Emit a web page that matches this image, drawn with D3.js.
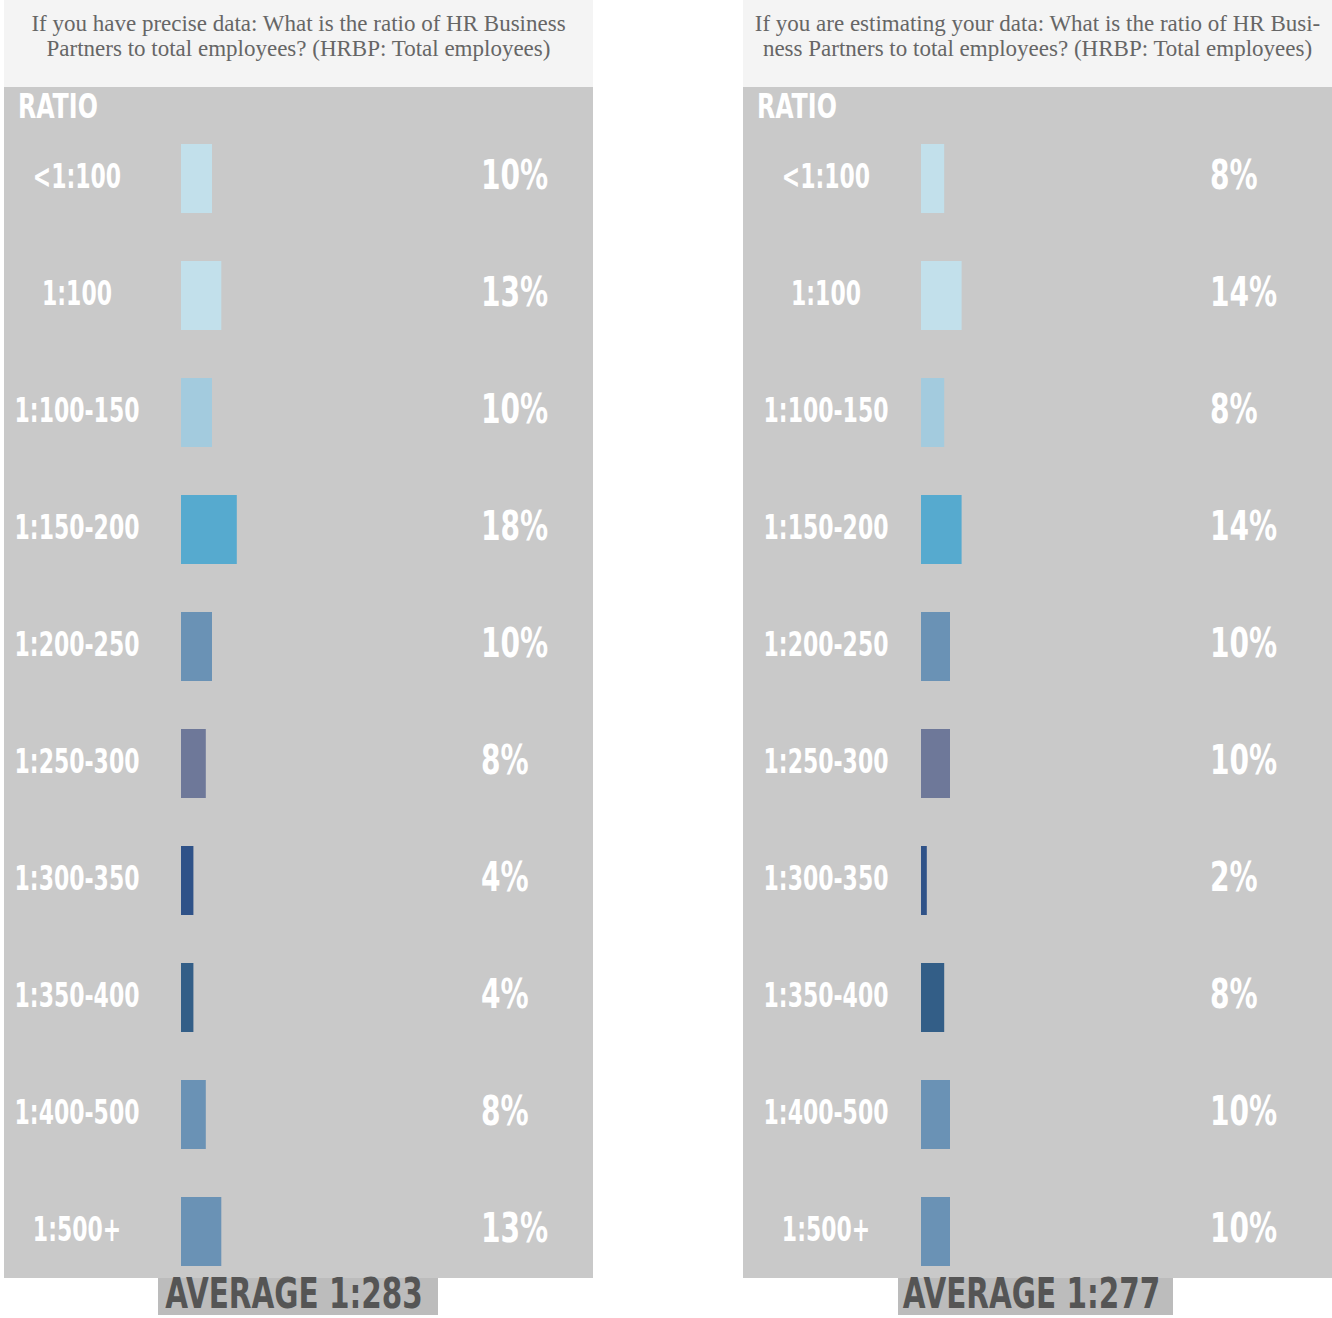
<!DOCTYPE html>
<html>
<head>
<meta charset="utf-8">
<script src="https://d3js.org/d3.v7.min.js"></script>
<style>
  body { margin: 0; background: #ffffff; }
  svg { display: block; }
</style>
</head>
<body>
<script>
// Ratio buckets (shared by both panels)
var categories = ["<1:100", "1:100", "1:100-150", "1:150-200", "1:200-250",
                  "1:250-300", "1:300-350", "1:350-400", "1:400-500", "1:500+"];

// Share of respondents, in percent
var precise_values   = [10, 13, 10, 18, 10, 8, 4, 4, 8, 13];
var estimated_values = [8, 14, 8, 14, 10, 10, 2, 8, 10, 10];

var bar_colors = ["#c2e0eb", "#c2e0eb", "#a3cbde", "#56aacf", "#6a92b5",
                  "#6e7899", "#2f5288", "#335e87", "#6a92b5", "#6a92b5"];

var titles = [
	["If you have precise data: What is the ratio of HR Business",
	 "Partners to total employees? (HRBP: Total employees)"],
	["If you are estimating your data: What is the ratio of HR Busi-",
	 "ness Partners to total employees? (HRBP: Total employees)"]
];
var averages = ["AVERAGE 1:283", "AVERAGE 1:277"];

var width  = 1332;
var height = 1318;
// no narrow font installed: squeeze the condensed face horizontally
var cond   = "'DejaVu Sans Condensed', 'DejaVu Sans', sans-serif";

var svg = d3.select("body").append("svg")
	.attr("width", width)
	.attr("height", height);

// one row per ratio bucket
var y = d3.scaleBand()
	.domain(categories)
	.range([117.5, 1287.5]);

// panel settings: left edge, label centre, bar start, pct label, px range for 100%
var panels = [
	{ x: 4,   label_x: 77,  bar_x: 181, pct_x: 481,  values: precise_values,   max_px: 310, avg_box: [158, 280] },
	{ x: 743, label_x: 826, bar_x: 921, pct_x: 1210, values: estimated_values, max_px: 290, avg_box: [898, 275] }
];

function squeezed(tx, ty, s) {
	return "translate(" + tx + "," + ty + ") scale(" + s + ",1)";
}

function draw_panel(p, idx) {
	var g = svg.append("g");
	var pw = 589;

	// title strip
	g.append("rect")
		.attr("x", p.x).attr("y", 0)
		.attr("width", pw).attr("height", 87)
		.style("fill", "#f4f4f4");

	g.selectAll("text.title")
		.data(titles[idx])
		.enter()
		.append("text")
		.attr("class", "title")
		.attr("x", p.x + pw / 2)
		.attr("y", function (d, i) { return 31 + i * 25; })
		.attr("text-anchor", "middle")
		.style("font-family", "'Liberation Serif', 'DejaVu Serif', serif")
		.style("font-size", "23px")
		.style("fill", "#666666")
		.text(function (d) { return d; });

	// grey body
	g.append("rect")
		.attr("x", p.x).attr("y", 87)
		.attr("width", pw).attr("height", 1191)
		.style("fill", "#c9c9c9");

	g.append("text")
		.attr("transform", squeezed(p.x + 14, 118, 0.8))
		.style("font-family", cond)
		.style("font-weight", "bold")
		.style("font-size", "33px")
		.style("fill", "#ffffff")
		.text("RATIO");

	var x = d3.scaleLinear()
		.domain([0, 100])
		.range([0, p.max_px]);

	var rows = g.selectAll("g.row")
		.data(categories)
		.enter()
		.append("g")
		.attr("class", "row")
		.attr("transform", function (d) {
			return "translate(0," + (y(d) + y.bandwidth() / 2) + ")";
		});

	rows.append("text")
		.attr("transform", squeezed(p.label_x, 12, 0.74))
		.attr("text-anchor", "middle")
		.style("font-family", cond)
		.style("font-weight", "bold")
		.style("font-size", "33px")
		.style("fill", "#ffffff")
		.text(function (d) { return d; });

	rows.append("rect")
		.attr("x", p.bar_x)
		.attr("y", -32)
		.attr("height", 69)
		.attr("width", function (d, i) { return x(p.values[i]); })
		.style("fill", function (d, i) { return bar_colors[i]; });

	rows.append("text")
		.attr("transform", squeezed(p.pct_x, 13, 0.78))
		.style("font-family", cond)
		.style("font-weight", "bold")
		.style("font-size", "40px")
		.style("fill", "#ffffff")
		.text(function (d, i) { return p.values[i] + "%"; });

	// average badge under the panel
	g.append("rect")
		.attr("x", p.avg_box[0]).attr("y", 1278)
		.attr("width", p.avg_box[1]).attr("height", 37)
		.style("fill", "#bcbcbc");

	g.append("text")
		.attr("transform", squeezed(p.avg_box[0] + p.avg_box[1] / 2 - 4, 1308, 0.78))
		.attr("text-anchor", "middle")
		.style("font-family", cond)
		.style("font-weight", "bold")
		.style("font-size", "42px")
		.style("fill", "#555555")
		.text(averages[idx]);
}

panels.forEach(draw_panel);
</script>
</body>
</html>
